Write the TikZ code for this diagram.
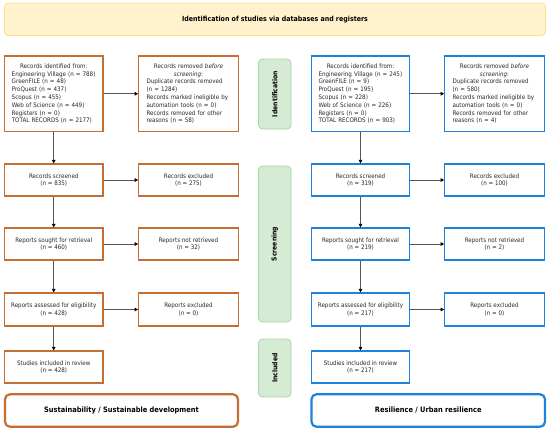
\documentclass[tikz,border=0pt]{standalone}
\usepackage{fontspec}
\setmainfont{DejaVu Sans}[FakeStretch=0.9]
\usetikzlibrary{arrows.meta}
\definecolor{orng}{RGB}{197,110,52}
\definecolor{blu}{RGB}{30,130,220}
\definecolor{grnfill}{RGB}{213,235,211}
\definecolor{grnline}{RGB}{168,214,164}
\definecolor{banfill}{RGB}{255,242,204}
\definecolor{banline}{RGB}{255,222,140}
\definecolor{arr}{RGB}{85,85,85}
\definecolor{txt}{RGB}{40,40,40}
\newcommand\bodyfont{\fontsize{6.2}{7.8}\selectfont}
\newcommand\cl[1]{\makebox[84pt][c]{#1}}
\tikzset{
  box/.style={draw, line width=1.2pt, fill=white, inner sep=0pt, align=center, font=\bodyfont, text=txt},
  obox/.style={box, draw=orng},
  bbox/.style={box, draw=blu},
  widebox/.style={minimum width=98.5pt},
  exbox/.style={minimum width=99.5pt},
  tallrow/.style={minimum height=75.5pt},
  shortrow/.style={minimum height=32pt},
  phase/.style={draw=grnline, fill=grnfill, rounded corners=4pt, line width=0.8pt,
    minimum width=32.5pt, inner sep=0pt, font=\fontsize{6.8}{8}\selectfont\bfseries},
  label/.style={draw, line width=2.2pt, rounded corners=5pt, fill=white, inner sep=0pt,
    minimum width=233pt, minimum height=32.5pt, font=\fontsize{7.4}{9}\selectfont\bfseries},
  banner/.style={draw=banline, fill=banfill, line width=0.9pt, rounded corners=4pt, inner sep=0pt,
    minimum width=541pt, minimum height=32.5pt, font=\fontsize{7.0}{8}\selectfont\bfseries},
  conn/.style={draw=arr, line width=0.8pt, -{Triangle[length=3.5pt,width=3.5pt,black]}}
}
\begin{document}
\begin{tikzpicture}[x=1pt,y=-1pt]
\useasboundingbox (0,0) rectangle (550,431);
% banner
\node[banner] (ban) at (275,19.25) {Identification of studies via databases and registers};
% phases
\node[phase, minimum height=70pt] (P1) at (274.75,94) {\rotatebox{90}{Identification}};
\node[phase, minimum height=156pt] (P2) at (274.75,244) {\rotatebox{90}{Screening}};
\node[phase, minimum height=58pt] (P3) at (274.75,368) {\rotatebox{90}{Included}};
% ---------- left column ----------
\node[obox, widebox, tallrow, text width=84pt, align=left] (L1) at (53.75,93.75)
 {\cl{Records identified from:}\\Engineering Village (n = 788)\\GreenFILE (n = 48)\\ProQuest (n = 437)\\Scopus (n = 455)\\Web of Science (n = 449)\\Registers (n = 0)\\TOTAL RECORDS (n = 2177)};
\node[obox, exbox, tallrow, text width=84pt, align=left] (L1x) at (188.5,93.75)
 {\cl{Records removed \textit{before}}\\\cl{\textit{screening}:}\\Duplicate records removed\\(n = 1284)\\Records marked ineligible by\\automation tools (n = 0)\\Records removed for other\\reasons (n = 58)};
\node[obox, widebox, shortrow] (L2) at (53.75,180) {Records screened\\(n = 835)};
\node[obox, exbox, shortrow] (L2x) at (188.5,180) {Records excluded\\(n = 275)};
\node[obox, widebox, shortrow] (L3) at (53.75,244) {Reports sought for retrieval\\(n = 460)};
\node[obox, exbox, shortrow] (L3x) at (188.5,244) {Reports not retrieved\\(n = 32)};
\node[obox, widebox, minimum height=33pt] (L4) at (53.75,309.5) {Reports assessed for eligibility\\(n = 428)};
\node[obox, exbox, minimum height=33pt] (L4x) at (188.5,309.5) {Reports excluded\\(n = 0)};
\node[obox, widebox, shortrow] (L5) at (53.75,367) {Studies included in review\\(n = 428)};
\node[label, draw=orng] (LL) at (121.5,410.5) {Sustainability / Sustainable development};
\draw[conn] (L1.east) -- (L1x.west);
\draw[conn] (L2.east) -- (L2x.west);
\draw[conn] (L3.east) -- (L3x.west);
\draw[conn] (L4.east) -- (L4x.west);
\draw[conn] (L1.south) -- (L2.north);
\draw[conn] (L2.south) -- (L3.north);
\draw[conn] (L3.south) -- (L4.north);
\draw[conn] (L4.south) -- (L5.north);
% ---------- right column ----------
\node[bbox, widebox, tallrow, text width=84pt, align=left] (R1) at (360.5,93.75)
 {\cl{Records identified from:}\\Engineering Village (n = 245)\\GreenFILE (n = 9)\\ProQuest (n = 195)\\Scopus (n = 228)\\Web of Science (n = 226)\\Registers (n = 0)\\TOTAL RECORDS (n = 903)};
\node[bbox, exbox, tallrow, text width=84pt, align=left] (R1x) at (494.5,93.75)
 {\cl{Records removed \textit{before}}\\\cl{\textit{screening}:}\\Duplicate records removed\\(n = 580)\\Records marked ineligible by\\automation tools (n = 0)\\Records removed for other\\reasons (n = 4)};
\node[bbox, widebox, shortrow] (R2) at (360.5,180) {Records screened\\(n = 319)};
\node[bbox, exbox, shortrow] (R2x) at (494.5,180) {Records excluded\\(n = 100)};
\node[bbox, widebox, shortrow] (R3) at (360.5,244) {Reports sought for retrieval\\(n = 219)};
\node[bbox, exbox, shortrow] (R3x) at (494.5,244) {Reports not retrieved\\(n = 2)};
\node[bbox, widebox, minimum height=33pt] (R4) at (360.5,309.5) {Reports assessed for eligibility\\(n = 217)};
\node[bbox, exbox, minimum height=33pt] (R4x) at (494.5,309.5) {Reports excluded\\(n = 0)};
\node[bbox, widebox, shortrow] (R5) at (360.5,367) {Studies included in review\\(n = 217)};
\node[label, draw=blu, minimum width=233.5pt] (RL) at (428.25,410.5) {Resilience / Urban resilience};
\draw[conn] (R1.east) -- (R1x.west);
\draw[conn] (R2.east) -- (R2x.west);
\draw[conn] (R3.east) -- (R3x.west);
\draw[conn] (R4.east) -- (R4x.west);
\draw[conn] (R1.south) -- (R2.north);
\draw[conn] (R2.south) -- (R3.north);
\draw[conn] (R3.south) -- (R4.north);
\draw[conn] (R4.south) -- (R5.north);
\end{tikzpicture}
\end{document}
